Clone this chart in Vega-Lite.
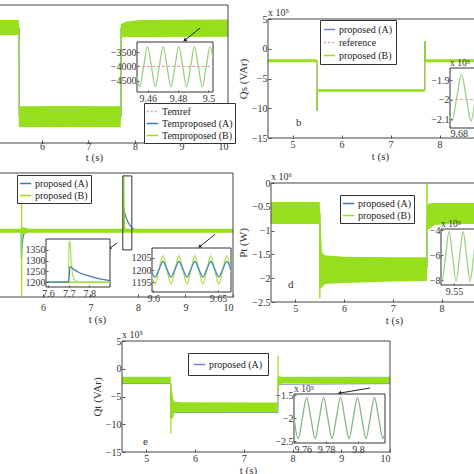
{
"$schema": "https://vega.github.io/schema/vega-lite/v6.json",
"width": 474, "height": 474,
"autosize": {"type": "none"},
"padding": 0,
"background": "white",
"config": {
 "view": {"stroke": null},
 "font": "Liberation Serif",
 "axis": {"labelFont": "Liberation Serif", "labelFontSize": 10, "labelColor": "#333", "titleFont": "Liberation Serif", "titleFontSize": 11, "titleFontWeight": "normal", "titleColor": "#333", "domain": false, "grid": false, "tickSize": -3, "tickColor": "#555", "labelPadding": 4, "titlePadding": 1},
 "legend": {"strokeColor": "#333", "fillColor": "white", "padding": 2, "rowPadding": 0, "labelFont": "Liberation Serif", "labelFontSize": 10, "labelColor": "#222", "symbolType": "stroke", "symbolSize": 130, "symbolStrokeWidth": 1.5, "labelOffset": 3, "cornerRadius": 0}
},
"resolve": {"scale": {"x": "independent", "y": "independent", "color": "independent", "strokeDash": "independent"}, "axis": {"x": "independent", "y": "independent"}, "legend": {"color": "independent", "strokeDash": "independent"}},
"datasets": {
 "aLines": [
  {"t":5.1,"v":-4000,"s":"Temref"},{"t":5.51,"v":-4000,"s":"Temref"},{"t":5.5101,"v":-9950,"s":"Temref"},{"t":7.7,"v":-9950,"s":"Temref"},{"t":7.7001,"v":-4000,"s":"Temref"},{"t":10,"v":-4000,"s":"Temref"},
  {"t":5.1,"v":-4000,"s":"Temproposed (A)"},{"t":5.51,"v":-4000,"s":"Temproposed (A)"},{"t":5.515,"v":-9950,"s":"Temproposed (A)"},{"t":7.7,"v":-9950,"s":"Temproposed (A)"},{"t":7.705,"v":-4000,"s":"Temproposed (A)"},{"t":10,"v":-4000,"s":"Temproposed (A)"},
  {"t":5.1,"v":-4000,"s":"Temproposed (B)"},{"t":5.51,"v":-4000,"s":"Temproposed (B)"},{"t":5.515,"v":-9950,"s":"Temproposed (B)"},{"t":7.7,"v":-9950,"s":"Temproposed (B)"},{"t":7.705,"v":-4000,"s":"Temproposed (B)"},{"t":10,"v":-4000,"s":"Temproposed (B)"}
 ],
 "aBand": [
  {"t":5.1,"lo":-4500,"hi":-3500},{"t":5.5,"lo":-4500,"hi":-3500},{"t":5.505,"lo":-10650,"hi":-3500},{"t":5.51,"lo":-10650,"hi":-9250},{"t":6.5,"lo":-10640,"hi":-9240},{"t":7.69,"lo":-10650,"hi":-9250},{"t":7.695,"lo":-10650,"hi":-3760},{"t":7.705,"lo":-4650,"hi":-3760},{"t":7.8,"lo":-4640,"hi":-3620},{"t":8.1,"lo":-4630,"hi":-3500},{"t":10,"lo":-4620,"hi":-3470}
 ],
 "aFrame": [{"x1":4.5,"x2":10,"y1":-11700,"y2":-2500}],
 "aArrow": [{"t":9.401,"v":-4033,"t2":9.079,"v2":-4833}],
 "aIBox": [{"x1":9.453,"x2":9.503,"y1":-4880,"y2":-3155}],
 "aIRef": [{"x1":9.453,"x2":9.503,"v":-4000}],
 "aISine": [
  {"t":9.453,"v":-4342},{"t":9.45475,"v":-4697},{"t":9.45733,"v":-4007},{"t":9.4599,"v":-3317},{"t":9.46248,"v":-4007},{"t":9.46505,"v":-4697},{"t":9.46763,"v":-4007},{"t":9.4702,"v":-3317},{"t":9.47278,"v":-4007},{"t":9.47535,"v":-4697},{"t":9.47793,"v":-4007},{"t":9.4805,"v":-3317},{"t":9.48308,"v":-4007},{"t":9.48565,"v":-4697},{"t":9.48823,"v":-4007},{"t":9.4908,"v":-3317},{"t":9.49338,"v":-4007},{"t":9.49595,"v":-4697},{"t":9.49853,"v":-4007},{"t":9.5011,"v":-3317},{"t":9.503,"v":-3726}
 ],
 "bLines": [
  {"t":4.5,"v":-2,"s":"proposed (A)"},{"t":5.5,"v":-2,"s":"proposed (A)"},{"t":5.502,"v":-10.4,"s":"proposed (A)"},{"t":5.506,"v":-7,"s":"proposed (A)"},{"t":7.7,"v":-7,"s":"proposed (A)"},{"t":7.702,"v":1.3,"s":"proposed (A)"},{"t":7.706,"v":-2,"s":"proposed (A)"},{"t":10,"v":-2,"s":"proposed (A)"},
  {"t":4.5,"v":-2,"s":"reference"},{"t":5.5,"v":-2,"s":"reference"},{"t":5.5001,"v":-7,"s":"reference"},{"t":7.7,"v":-7,"s":"reference"},{"t":7.7001,"v":-2,"s":"reference"},{"t":10,"v":-2,"s":"reference"},
  {"t":4.5,"v":-2,"s":"proposed (B)"},{"t":5.5,"v":-2,"s":"proposed (B)"},{"t":5.502,"v":-10.4,"s":"proposed (B)"},{"t":5.506,"v":-7,"s":"proposed (B)"},{"t":7.7,"v":-7,"s":"proposed (B)"},{"t":7.702,"v":1.3,"s":"proposed (B)"},{"t":7.706,"v":-2,"s":"proposed (B)"},{"t":10,"v":-2,"s":"proposed (B)"}
 ],
 "bBand": [
  {"t":4.5,"lo":-2.25,"hi":-1.75},{"t":5.5,"lo":-2.25,"hi":-1.75},{"t":5.5001,"lo":-7.22,"hi":-6.8},{"t":7.7,"lo":-7.22,"hi":-6.8},{"t":7.7001,"lo":-2.25,"hi":-1.75},{"t":10,"lo":-2.25,"hi":-1.75}
 ],
 "bFrame": [{"x1":4.5,"x2":10,"y1":-15,"y2":5}],
 "bText": [{"t":5.07,"v":-12.4,"txt":"b"}],
 "bExp": [{"t":4.5,"v":5,"txt":"x 10⁵"}],
 "bIBox": [{"x1":9.68,"x2":9.71,"y1":-2.146,"y2":-1.838}],
 "bIRef": [{"x1":9.68,"x2":9.71,"v":-2}],
 "bIExp": [{"t":9.68,"v":-1.838,"txt":"x 10⁵"}],
 "bISine": [
  {"t":9.68,"v":-2.085},{"t":9.6808,"v":-2.11},{"t":9.6827,"v":-1.99},{"t":9.6846,"v":-1.87},{"t":9.6865,"v":-1.99},{"t":9.6884,"v":-2.11},{"t":9.6903,"v":-1.99},{"t":9.6922,"v":-1.87},{"t":9.6941,"v":-1.99},{"t":9.696,"v":-2.11},{"t":9.6979,"v":-1.99},{"t":9.6998,"v":-1.87},{"t":9.7017,"v":-1.99},{"t":9.7036,"v":-2.11},{"t":9.7055,"v":-1.99},{"t":9.7074,"v":-1.87},{"t":9.7093,"v":-1.99},{"t":9.71,"v":-2.03}
 ],
 "cLines": [
  {"t":5.095,"v":1200,"s":"proposed (A)"},{"t":5.54,"v":1200,"s":"proposed (A)"},{"t":5.545,"v":1110,"s":"proposed (A)"},{"t":5.56,"v":1150,"s":"proposed (A)"},{"t":5.58,"v":1178,"s":"proposed (A)"},{"t":5.6,"v":1190,"s":"proposed (A)"},{"t":5.63,"v":1198,"s":"proposed (A)"},{"t":5.66,"v":1200,"s":"proposed (A)"},{"t":7.7,"v":1200,"s":"proposed (A)"},{"t":7.705,"v":1270,"s":"proposed (A)"},{"t":7.72,"v":1258,"s":"proposed (A)"},{"t":7.75,"v":1242,"s":"proposed (A)"},{"t":7.8,"v":1225,"s":"proposed (A)"},{"t":7.85,"v":1213,"s":"proposed (A)"},{"t":7.9,"v":1206,"s":"proposed (A)"},{"t":7.95,"v":1202,"s":"proposed (A)"},{"t":8.0,"v":1200,"s":"proposed (A)"},{"t":10,"v":1200,"s":"proposed (A)"},
  {"t":5.095,"v":1200,"s":"proposed (B)"},{"t":5.548,"v":1200,"s":"proposed (B)"},{"t":5.55,"v":1290,"s":"proposed (B)"},{"t":5.552,"v":990,"s":"proposed (B)"},{"t":5.555,"v":1200,"s":"proposed (B)"},{"t":7.699,"v":1200,"s":"proposed (B)"},{"t":7.703,"v":1380,"s":"proposed (B)"},{"t":7.707,"v":1300,"s":"proposed (B)"},{"t":7.715,"v":1220,"s":"proposed (B)"},{"t":7.73,"v":1205,"s":"proposed (B)"},{"t":7.75,"v":1200,"s":"proposed (B)"},{"t":10,"v":1200,"s":"proposed (B)"}
 ],
 "cBand": [
  {"t":5.095,"lo":1193.5,"hi":1206.5},{"t":5.54,"lo":1193.5,"hi":1206.5},{"t":5.56,"lo":1188,"hi":1212},{"t":5.62,"lo":1190,"hi":1210},{"t":5.7,"lo":1193.5,"hi":1206.5},{"t":10,"lo":1193.5,"hi":1206.5}
 ],
 "cFrame": [{"x1":4.5,"x2":10,"y1":985.8,"y2":1386.4}],
 "cBox": [{"x1":7.68,"x2":7.87,"y1":1138,"y2":1377}],
 "cArrow1": [{"t":7.558,"v":1160,"t2":7.411,"v2":1144}],
 "cArrow2": [{"t":9.621,"v":1188,"t2":9.305,"v2":1149}],
 "c1Box": [{"x1":7.59,"x2":7.9,"y1":1177,"y2":1401}],
 "c1Band": [{"t":7.59,"lo":1196,"hi":1204},{"t":7.9,"lo":1196,"hi":1204}],
 "c1G": [
  {"t":7.59,"v":1200},{"t":7.699,"v":1200},{"t":7.702,"v":1380},{"t":7.705,"v":1392},{"t":7.708,"v":1370},{"t":7.712,"v":1300},{"t":7.718,"v":1240},{"t":7.725,"v":1215},{"t":7.735,"v":1205},{"t":7.75,"v":1200},{"t":7.9,"v":1200}
 ],
 "c1B": [
  {"t":7.59,"v":1200},{"t":7.7,"v":1200},{"t":7.706,"v":1272},{"t":7.72,"v":1262},{"t":7.75,"v":1245},{"t":7.8,"v":1228},{"t":7.85,"v":1215},{"t":7.9,"v":1207}
 ],
 "c2Box": [{"x1":9.599,"x2":9.66,"y1":1191,"y2":1209}],
 "c2Sine": [
  {"t":9.599,"g":1197.9,"b":1198.8},{"t":9.60135,"g":1194.2,"b":1197.1},{"t":9.60443,"g":1200,"b":1200.3},{"t":9.6075,"g":1205.8,"b":1203.5},{"t":9.61058,"g":1200,"b":1200.3},{"t":9.61365,"g":1194.2,"b":1197.1},{"t":9.61673,"g":1200,"b":1200.3},{"t":9.6198,"g":1205.8,"b":1203.5},{"t":9.62288,"g":1200,"b":1200.3},{"t":9.62595,"g":1194.2,"b":1197.1},{"t":9.62903,"g":1200,"b":1200.3},{"t":9.6321,"g":1205.8,"b":1203.5},{"t":9.63518,"g":1200,"b":1200.3},{"t":9.63825,"g":1194.2,"b":1197.1},{"t":9.64133,"g":1200,"b":1200.3},{"t":9.6444,"g":1205.8,"b":1203.5},{"t":9.64748,"g":1200,"b":1200.3},{"t":9.65055,"g":1194.2,"b":1197.1},{"t":9.65363,"g":1200,"b":1200.3},{"t":9.6567,"g":1205.8,"b":1203.5},{"t":9.65978,"g":1200,"b":1200.3},{"t":9.66,"g":1199.3,"b":1199.9}
 ],
 "dLines": [
  {"t":4.5,"v":-0.62,"s":"proposed (A)"},{"t":5.5,"v":-0.62,"s":"proposed (A)"},{"t":5.515,"v":-1.5,"s":"proposed (A)"},{"t":5.52,"v":-2.15,"s":"proposed (A)"},{"t":5.525,"v":-1.6,"s":"proposed (A)"},{"t":5.55,"v":-1.8,"s":"proposed (A)"},{"t":7.7,"v":-1.8,"s":"proposed (A)"},{"t":7.705,"v":-0.65,"s":"proposed (A)"},{"t":10,"v":-0.65,"s":"proposed (A)"},
  {"t":4.5,"v":-0.62,"s":"proposed (B)"},{"t":5.5,"v":-0.62,"s":"proposed (B)"},{"t":5.502,"v":-2.42,"s":"proposed (B)"},{"t":5.506,"v":-1.0,"s":"proposed (B)"},{"t":5.51,"v":-2.2,"s":"proposed (B)"},{"t":5.53,"v":-1.8,"s":"proposed (B)"},{"t":7.698,"v":-1.8,"s":"proposed (B)"},{"t":7.702,"v":-0.02,"s":"proposed (B)"},{"t":7.706,"v":-1.05,"s":"proposed (B)"},{"t":7.72,"v":-0.7,"s":"proposed (B)"},{"t":10,"v":-0.65,"s":"proposed (B)"}
 ],
 "dBand": [
  {"t":4.5,"lo":-0.86,"hi":-0.4},{"t":5.495,"lo":-0.86,"hi":-0.4},{"t":5.5,"lo":-2.2,"hi":-0.4},{"t":5.52,"lo":-2.2,"hi":-0.9},{"t":5.545,"lo":-2.2,"hi":-1.45},{"t":5.6,"lo":-2.12,"hi":-1.52},{"t":6.0,"lo":-2.1,"hi":-1.55},{"t":7.0,"lo":-2.07,"hi":-1.56},{"t":7.695,"lo":-2.06,"hi":-1.56},{"t":7.7,"lo":-2.06,"hi":-0.45},{"t":7.705,"lo":-1.0,"hi":-0.45},{"t":7.75,"lo":-0.96,"hi":-0.43},{"t":7.85,"lo":-0.88,"hi":-0.42},{"t":8.2,"lo":-0.86,"hi":-0.42},{"t":10,"lo":-0.86,"hi":-0.42}
 ],
 "dFrame": [{"x1":4.5,"x2":10,"y1":-2.5,"y2":0}],
 "dText": [{"t":4.85,"v":-2.14,"txt":"d"}],
 "dExp": [{"t":4.5,"v":0,"txt":"x 10⁶"}],
 "dIBox": [{"x1":9.54,"x2":9.6015,"y1":-8.4,"y2":-3.9}],
 "dIExp": [{"t":9.54,"v":-3.9,"txt":"x 10⁵"}],
 "dISine": [
  {"t":9.54,"v":-7.9},{"t":9.5408,"v":-8.1},{"t":9.5435,"v":-6.1},{"t":9.5462,"v":-4.1},{"t":9.5489,"v":-6.1},{"t":9.5516,"v":-8.1},{"t":9.5543,"v":-6.1},{"t":9.557,"v":-4.1},{"t":9.5597,"v":-6.1},{"t":9.5624,"v":-8.1},{"t":9.5651,"v":-6.1},{"t":9.5678,"v":-4.1},{"t":9.5705,"v":-6.1},{"t":9.5732,"v":-8.1},{"t":9.5759,"v":-6.1},{"t":9.5786,"v":-4.1},{"t":9.5813,"v":-6.1},{"t":9.584,"v":-8.1},{"t":9.5867,"v":-6.1},{"t":9.5894,"v":-4.1},{"t":9.5921,"v":-6.1},{"t":9.5948,"v":-8.1},{"t":9.5975,"v":-6.1},{"t":9.6002,"v":-4.1},{"t":9.6015,"v":-4.6}
 ],
 "eLines": [
  {"t":4.5,"v":-2.68,"s":"proposed (A)"},{"t":5.5,"v":-2.68,"s":"proposed (A)"},{"t":5.505,"v":-9,"s":"proposed (A)"},{"t":5.515,"v":-7.2,"s":"proposed (A)"},{"t":5.56,"v":-7.9,"s":"proposed (A)"},{"t":7.7,"v":-7.9,"s":"proposed (A)"},{"t":7.705,"v":-2.8,"s":"proposed (A)"},{"t":10,"v":-2.68,"s":"proposed (A)"}
 ],
 "eBand": [
  {"t":4.5,"lo":-2.6,"hi":-1.45},{"t":5.495,"lo":-2.6,"hi":-1.45},{"t":5.5,"lo":-9,"hi":-1.45},{"t":5.505,"lo":-9,"hi":-3},{"t":5.555,"lo":-8.8,"hi":-5.5},{"t":5.57,"lo":-7.9,"hi":-5.9},{"t":5.7,"lo":-7.9,"hi":-6.05},{"t":7.69,"lo":-7.85,"hi":-6.1},{"t":7.695,"lo":-7.85,"hi":-1.3},{"t":7.705,"lo":-4,"hi":-1.3},{"t":7.73,"lo":-2.9,"hi":-1.4},{"t":7.8,"lo":-2.62,"hi":-1.45},{"t":10,"lo":-2.62,"hi":-1.45}
 ],
 "eSpikes": [{"t":5.503,"lo":-11.7,"hi":-2.6},{"t":7.703,"lo":-4,"hi":2.3}],
 "eFrame": [{"x1":4.5,"x2":10,"y1":-15,"y2":5}],
 "eText": [{"t":4.93,"v":-13.2,"txt":"e"}],
 "eExp": [{"t":4.5,"v":5,"txt":"x 10⁵"}],
 "eArrow": [{"t":9.592,"v":-3.47,"t2":8.976,"v2":-4.37}],
 "eIBox": [{"x1":9.76,"x2":9.8169,"y1":-2.543,"y2":-1.478}],
 "eIExp": [{"t":9.76,"v":-1.478,"txt":"x 10⁵"}],
 "eISine": [
  {"t":9.76,"v":-1.99},{"t":9.7626,"v":-2.45},{"t":9.76525,"v":-2.0},{"t":9.7679,"v":-1.55},{"t":9.77055,"v":-2.0},{"t":9.7732,"v":-2.45},{"t":9.77585,"v":-2.0},{"t":9.7785,"v":-1.55},{"t":9.78115,"v":-2.0},{"t":9.7838,"v":-2.45},{"t":9.78645,"v":-2.0},{"t":9.7891,"v":-1.55},{"t":9.79175,"v":-2.0},{"t":9.7944,"v":-2.45},{"t":9.79705,"v":-2.0},{"t":9.7997,"v":-1.55},{"t":9.80235,"v":-2.0},{"t":9.805,"v":-2.45},{"t":9.80765,"v":-2.0},{"t":9.8103,"v":-1.55},{"t":9.81295,"v":-2.0},{"t":9.8156,"v":-2.45},{"t":9.8169,"v":-2.32}
 ]
},
"layer": [
 {"layer": [
  {"data": {"name": "aLines"}, "mark": {"type": "line", "strokeWidth": 1},
   "encoding": {
    "x": {"field": "t", "type": "quantitative", "scale": {"domain": [5.1, 10], "range": [0, 228], "nice": false, "zero": false}, "axis": {"orient": "bottom", "offset": -331, "values": [6,7,8,9,10], "format": "d", "title": "t (s)", "titleX": 94, "labelPadding": 1, "titlePadding": 0}},
    "y": {"field": "v", "type": "quantitative", "scale": {"domain": [-11700, -2500], "range": [143, 5], "nice": false, "zero": false}, "axis": null},
    "color": {"field": "s", "type": "nominal", "scale": {"domain": ["Temref","Temproposed (A)","Temproposed (B)"], "range": ["#e8949c","#3d7ab8","#97df1c"]}, "legend": {"orient": "none", "legendX": 144, "legendY": 103, "title": null}},
    "strokeDash": {"field": "s", "type": "nominal", "scale": {"domain": ["Temref","Temproposed (A)","Temproposed (B)"], "range": [[2,2],[1,0],[1,0]]}, "legend": {"orient": "none", "legendX": 144, "legendY": 103, "title": null}}
   }},
  {"data": {"name": "aBand"}, "mark": {"type": "area", "color": "#97df1c"},
   "encoding": {
    "x": {"field": "t", "type": "quantitative", "scale": {"domain": [5.1, 10], "range": [0, 228], "nice": false, "zero": false}},
    "y": {"field": "lo", "type": "quantitative", "scale": {"domain": [-11700, -2500], "range": [143, 5], "nice": false, "zero": false}, "axis": null},
    "y2": {"field": "hi"}
   }},
  {"data": {"name": "aArrow"}, "mark": {"type": "rule", "color": "#222", "strokeWidth": 1},
   "encoding": {
    "x": {"field": "t", "type": "quantitative", "scale": {"domain": [5.1, 10], "range": [0, 228], "nice": false, "zero": false}},
    "y": {"field": "v", "type": "quantitative", "scale": {"domain": [-11700, -2500], "range": [143, 5], "nice": false, "zero": false}, "axis": null},
    "x2": {"field": "t2"}, "y2": {"field": "v2"}
   }},
  {"data": {"name": "aArrow"}, "mark": {"type": "point", "shape": "triangle", "filled": true, "size": 18, "angle": 231, "color": "#222", "opacity": 1},
   "encoding": {
    "x": {"field": "t2", "type": "quantitative", "scale": {"domain": [5.1, 10], "range": [0, 228], "nice": false, "zero": false}},
    "y": {"field": "v2", "type": "quantitative", "scale": {"domain": [-11700, -2500], "range": [143, 5], "nice": false, "zero": false}, "axis": null}
   }},
  {"data": {"name": "aFrame"}, "mark": {"type": "rect", "fillOpacity": 0, "stroke": "#444", "strokeWidth": 1},
   "encoding": {
    "x": {"field": "x1", "type": "quantitative", "scale": {"domain": [5.1, 10], "range": [0, 228], "nice": false, "zero": false}},
    "x2": {"field": "x2"},
    "y": {"field": "y1", "type": "quantitative", "scale": {"domain": [-11700, -2500], "range": [143, 5], "nice": false, "zero": false}, "axis": null},
    "y2": {"field": "y2"}
   }}
 ]},
 {"layer": [
  {"data": {"name": "aIBox"}, "mark": {"type": "rect", "fill": "white", "stroke": "#333", "strokeWidth": 1},
   "encoding": {
    "x": {"field": "x1", "type": "quantitative", "scale": {"domain": [9.453, 9.503], "range": [137, 213], "nice": false, "zero": false}, "axis": {"orient": "bottom", "offset": -382, "values": [9.46, 9.48, 9.5], "format": ".2~f", "title": null, "zindex": 2, "tickSize": -2, "labelPadding": 3}},
    "x2": {"field": "x2"},
    "y": {"field": "y1", "type": "quantitative", "scale": {"domain": [-4880, -3155], "range": [92, 42], "nice": false, "zero": false}, "axis": {"orient": "left", "offset": -137, "values": [-4500, -4000, -3500], "format": "d", "title": null, "zindex": 2, "tickSize": -2, "labelPadding": 3}},
    "y2": {"field": "y2"}
   }},
  {"data": {"name": "aIRef"}, "mark": {"type": "rule", "color": "#e8949c", "strokeDash": [3,2], "strokeWidth": 1},
   "encoding": {
    "x": {"field": "x1", "type": "quantitative", "scale": {"domain": [9.453, 9.503], "range": [137, 213], "nice": false, "zero": false}},
    "x2": {"field": "x2"},
    "y": {"field": "v", "type": "quantitative", "scale": {"domain": [-4880, -3155], "range": [92, 42], "nice": false, "zero": false}}
   }},
  {"data": {"name": "aISine"}, "mark": {"type": "line", "color": "#9dcf85", "strokeWidth": 1.3, "interpolate": "monotone"},
   "encoding": {
    "x": {"field": "t", "type": "quantitative", "scale": {"domain": [9.453, 9.503], "range": [137, 213], "nice": false, "zero": false}},
    "y": {"field": "v", "type": "quantitative", "scale": {"domain": [-4880, -3155], "range": [92, 42], "nice": false, "zero": false}}
   }}
 ]},
 {"layer": [
  {"data": {"name": "bLines"}, "mark": {"type": "line", "strokeWidth": 1},
   "encoding": {
    "x": {"field": "t", "type": "quantitative", "scale": {"domain": [4.5, 10], "range": [268, 537.5], "nice": false, "zero": false}, "axis": {"orient": "bottom", "offset": -336, "values": [5,6,7,8,9,10], "format": "d", "title": "t (s)", "titleX": 380}},
    "y": {"field": "v", "type": "quantitative", "scale": {"domain": [-15, 5], "range": [138, 19], "nice": false, "zero": false}, "axis": {"orient": "left", "offset": -268, "values": [-15,-10,-5,0,5], "format": "d", "title": "Qs (VAr)", "titlePadding": 3}},
    "color": {"field": "s", "type": "nominal", "scale": {"domain": ["proposed (A)","reference","proposed (B)"], "range": ["#6f86c6","#e8949c","#97df1c"]}, "legend": {"orient": "none", "legendX": 320, "legendY": 20, "title": null, "padding": 3, "rowPadding": 1}},
    "strokeDash": {"field": "s", "type": "nominal", "scale": {"domain": ["proposed (A)","reference","proposed (B)"], "range": [[1,0],[2,2],[1,0]]}, "legend": {"orient": "none", "legendX": 320, "legendY": 20, "title": null, "padding": 3, "rowPadding": 1}}
   }},
  {"data": {"name": "bBand"}, "mark": {"type": "area", "color": "#97df1c"},
   "encoding": {
    "x": {"field": "t", "type": "quantitative", "scale": {"domain": [4.5, 10], "range": [268, 537.5], "nice": false, "zero": false}},
    "y": {"field": "lo", "type": "quantitative", "scale": {"domain": [-15, 5], "range": [138, 19], "nice": false, "zero": false}},
    "y2": {"field": "hi"}
   }},
  {"data": {"name": "bText"}, "mark": {"type": "text", "fontSize": 11, "font": "Liberation Serif", "align": "left", "baseline": "middle", "color": "#333"},
   "encoding": {
    "x": {"field": "t", "type": "quantitative", "scale": {"domain": [4.5, 10], "range": [268, 537.5], "nice": false, "zero": false}},
    "y": {"field": "v", "type": "quantitative", "scale": {"domain": [-15, 5], "range": [138, 19], "nice": false, "zero": false}},
    "text": {"field": "txt"}
   }},
  {"data": {"name": "bExp"}, "mark": {"type": "text", "fontSize": 10, "font": "Liberation Serif", "align": "left", "baseline": "bottom", "dy": -1, "color": "#333"},
   "encoding": {
    "x": {"field": "t", "type": "quantitative", "scale": {"domain": [4.5, 10], "range": [268, 537.5], "nice": false, "zero": false}},
    "y": {"field": "v", "type": "quantitative", "scale": {"domain": [-15, 5], "range": [138, 19], "nice": false, "zero": false}},
    "text": {"field": "txt"}
   }},
  {"data": {"name": "bFrame"}, "mark": {"type": "rect", "fillOpacity": 0, "stroke": "#444", "strokeWidth": 1},
   "encoding": {
    "x": {"field": "x1", "type": "quantitative", "scale": {"domain": [4.5, 10], "range": [268, 537.5], "nice": false, "zero": false}},
    "x2": {"field": "x2"},
    "y": {"field": "y1", "type": "quantitative", "scale": {"domain": [-15, 5], "range": [138, 19], "nice": false, "zero": false}},
    "y2": {"field": "y2"}
   }}
 ]},
 {"layer": [
  {"data": {"name": "bIBox"}, "mark": {"type": "rect", "fill": "white", "stroke": "#333", "strokeWidth": 1},
   "encoding": {
    "x": {"field": "x1", "type": "quantitative", "scale": {"domain": [9.68, 9.71], "range": [450, 525], "nice": false, "zero": false}, "axis": {"orient": "bottom", "offset": -346, "values": [9.68], "format": ".2f", "title": null, "zindex": 2, "tickSize": -2, "labelPadding": 2}},
    "x2": {"field": "x2"},
    "y": {"field": "y1", "type": "quantitative", "scale": {"domain": [-2.146, -1.838], "range": [128, 68], "nice": false, "zero": false}, "axis": {"orient": "left", "offset": -450, "values": [-2.1, -2, -1.9], "format": "~g", "title": null, "zindex": 2, "tickSize": -2, "labelPadding": 3}},
    "y2": {"field": "y2"}
   }},
  {"data": {"name": "bIRef"}, "mark": {"type": "rule", "color": "#e8949c", "strokeDash": [3,2], "strokeWidth": 1},
   "encoding": {
    "x": {"field": "x1", "type": "quantitative", "scale": {"domain": [9.68, 9.71], "range": [450, 525], "nice": false, "zero": false}},
    "x2": {"field": "x2"},
    "y": {"field": "v", "type": "quantitative", "scale": {"domain": [-2.146, -1.838], "range": [128, 68], "nice": false, "zero": false}}
   }},
  {"data": {"name": "bISine"}, "mark": {"type": "line", "color": "#9dcf85", "strokeWidth": 1.3, "interpolate": "monotone"},
   "encoding": {
    "x": {"field": "t", "type": "quantitative", "scale": {"domain": [9.68, 9.71], "range": [450, 525], "nice": false, "zero": false}},
    "y": {"field": "v", "type": "quantitative", "scale": {"domain": [-2.146, -1.838], "range": [128, 68], "nice": false, "zero": false}}
   }},
  {"data": {"name": "bIExp"}, "mark": {"type": "text", "fontSize": 9.5, "font": "Liberation Serif", "align": "left", "baseline": "bottom", "color": "#333"},
   "encoding": {
    "x": {"field": "t", "type": "quantitative", "scale": {"domain": [9.68, 9.71], "range": [450, 525], "nice": false, "zero": false}},
    "y": {"field": "v", "type": "quantitative", "scale": {"domain": [-2.146, -1.838], "range": [128, 68], "nice": false, "zero": false}},
    "text": {"field": "txt"}
   }}
 ]},
 {"layer": [
  {"data": {"name": "cLines"}, "mark": {"type": "line", "strokeWidth": 1.2},
   "encoding": {
    "x": {"field": "t", "type": "quantitative", "scale": {"domain": [5.095, 10], "range": [0, 233], "nice": false, "zero": false}, "axis": {"orient": "bottom", "offset": -177, "values": [6,7,8,9,10], "format": "d", "title": "t (s)", "titleX": 97, "labelPadding": 8}},
    "y": {"field": "v", "type": "quantitative", "scale": {"domain": [985.8, 1386.4], "range": [297, 173], "nice": false, "zero": false}, "axis": null},
    "color": {"field": "s", "type": "nominal", "scale": {"domain": ["proposed (A)","proposed (B)"], "range": ["#3d7ab8","#97df1c"]}, "legend": {"orient": "none", "legendX": 17, "legendY": 175, "title": null}}
   }},
  {"data": {"name": "cBand"}, "mark": {"type": "area", "color": "#97df1c"},
   "encoding": {
    "x": {"field": "t", "type": "quantitative", "scale": {"domain": [5.095, 10], "range": [0, 233], "nice": false, "zero": false}},
    "y": {"field": "lo", "type": "quantitative", "scale": {"domain": [985.8, 1386.4], "range": [297, 173], "nice": false, "zero": false}, "axis": null},
    "y2": {"field": "hi"}
   }},
  {"data": {"name": "cBox"}, "mark": {"type": "rect", "fillOpacity": 0, "stroke": "#333", "strokeWidth": 1},
   "encoding": {
    "x": {"field": "x1", "type": "quantitative", "scale": {"domain": [5.095, 10], "range": [0, 233], "nice": false, "zero": false}},
    "x2": {"field": "x2"},
    "y": {"field": "y1", "type": "quantitative", "scale": {"domain": [985.8, 1386.4], "range": [297, 173], "nice": false, "zero": false}, "axis": null},
    "y2": {"field": "y2"}
   }},
  {"data": {"name": "cArrow1"}, "mark": {"type": "rule", "color": "#222", "strokeWidth": 1},
   "encoding": {
    "x": {"field": "t", "type": "quantitative", "scale": {"domain": [5.095, 10], "range": [0, 233], "nice": false, "zero": false}},
    "y": {"field": "v", "type": "quantitative", "scale": {"domain": [985.8, 1386.4], "range": [297, 173], "nice": false, "zero": false}, "axis": null},
    "x2": {"field": "t2"}, "y2": {"field": "v2"}
   }},
  {"data": {"name": "cArrow1"}, "mark": {"type": "point", "shape": "triangle", "filled": true, "size": 14, "angle": 234, "color": "#222", "opacity": 1},
   "encoding": {
    "x": {"field": "t2", "type": "quantitative", "scale": {"domain": [5.095, 10], "range": [0, 233], "nice": false, "zero": false}},
    "y": {"field": "v2", "type": "quantitative", "scale": {"domain": [985.8, 1386.4], "range": [297, 173], "nice": false, "zero": false}, "axis": null}
   }},
  {"data": {"name": "cArrow2"}, "mark": {"type": "rule", "color": "#222", "strokeWidth": 1},
   "encoding": {
    "x": {"field": "t", "type": "quantitative", "scale": {"domain": [5.095, 10], "range": [0, 233], "nice": false, "zero": false}},
    "y": {"field": "v", "type": "quantitative", "scale": {"domain": [985.8, 1386.4], "range": [297, 173], "nice": false, "zero": false}, "axis": null},
    "x2": {"field": "t2"}, "y2": {"field": "v2"}
   }},
  {"data": {"name": "cArrow2"}, "mark": {"type": "point", "shape": "triangle", "filled": true, "size": 14, "angle": 231, "color": "#222", "opacity": 1},
   "encoding": {
    "x": {"field": "t2", "type": "quantitative", "scale": {"domain": [5.095, 10], "range": [0, 233], "nice": false, "zero": false}},
    "y": {"field": "v2", "type": "quantitative", "scale": {"domain": [985.8, 1386.4], "range": [297, 173], "nice": false, "zero": false}, "axis": null}
   }},
  {"data": {"name": "cFrame"}, "mark": {"type": "rect", "fillOpacity": 0, "stroke": "#444", "strokeWidth": 1},
   "encoding": {
    "x": {"field": "x1", "type": "quantitative", "scale": {"domain": [5.095, 10], "range": [0, 233], "nice": false, "zero": false}},
    "x2": {"field": "x2"},
    "y": {"field": "y1", "type": "quantitative", "scale": {"domain": [985.8, 1386.4], "range": [297, 173], "nice": false, "zero": false}, "axis": null},
    "y2": {"field": "y2"}
   }}
 ]},
 {"layer": [
  {"data": {"name": "c1Box"}, "mark": {"type": "rect", "fill": "white", "stroke": "#333", "strokeWidth": 1},
   "encoding": {
    "x": {"field": "x1", "type": "quantitative", "scale": {"domain": [7.59, 7.9], "range": [46, 110], "nice": false, "zero": false}, "axis": {"orient": "bottom", "offset": -187, "values": [7.6, 7.7, 7.8], "format": ".1f", "title": null, "zindex": 2, "tickSize": -2, "labelPadding": 3}},
    "x2": {"field": "x2"},
    "y": {"field": "y1", "type": "quantitative", "scale": {"domain": [1177, 1401], "range": [287, 239], "nice": false, "zero": false}, "axis": {"orient": "left", "offset": -46, "values": [1200, 1250, 1300, 1350], "format": "d", "title": null, "zindex": 2, "tickSize": -2, "labelPadding": 3}},
    "y2": {"field": "y2"}
   }},
  {"data": {"name": "c1Band"}, "mark": {"type": "area", "color": "#a9e05a"},
   "encoding": {
    "x": {"field": "t", "type": "quantitative", "scale": {"domain": [7.59, 7.9], "range": [46, 110], "nice": false, "zero": false}},
    "y": {"field": "lo", "type": "quantitative", "scale": {"domain": [1177, 1401], "range": [287, 239], "nice": false, "zero": false}},
    "y2": {"field": "hi"}
   }},
  {"data": {"name": "c1G"}, "mark": {"type": "line", "color": "#a9e05a", "strokeWidth": 1.2},
   "encoding": {
    "x": {"field": "t", "type": "quantitative", "scale": {"domain": [7.59, 7.9], "range": [46, 110], "nice": false, "zero": false}},
    "y": {"field": "v", "type": "quantitative", "scale": {"domain": [1177, 1401], "range": [287, 239], "nice": false, "zero": false}}
   }},
  {"data": {"name": "c1B"}, "mark": {"type": "line", "color": "#3d7ab8", "strokeWidth": 1.2, "interpolate": "monotone"},
   "encoding": {
    "x": {"field": "t", "type": "quantitative", "scale": {"domain": [7.59, 7.9], "range": [46, 110], "nice": false, "zero": false}},
    "y": {"field": "v", "type": "quantitative", "scale": {"domain": [1177, 1401], "range": [287, 239], "nice": false, "zero": false}}
   }}
 ]},
 {"layer": [
  {"data": {"name": "c2Box"}, "mark": {"type": "rect", "fill": "white", "stroke": "#333", "strokeWidth": 1},
   "encoding": {
    "x": {"field": "x1", "type": "quantitative", "scale": {"domain": [9.599, 9.66], "range": [152, 231], "nice": false, "zero": false}, "axis": {"orient": "bottom", "offset": -182, "values": [9.6, 9.65], "format": "~g", "title": null, "zindex": 2, "tickSize": -2, "labelPadding": 3}},
    "x2": {"field": "x2"},
    "y": {"field": "y1", "type": "quantitative", "scale": {"domain": [1191, 1209], "range": [292, 248], "nice": false, "zero": false}, "axis": {"orient": "left", "offset": -152, "values": [1195, 1200, 1205], "format": "d", "title": null, "zindex": 2, "tickSize": -2, "labelPadding": 3}},
    "y2": {"field": "y2"}
   }},
  {"data": {"name": "c2Sine"}, "mark": {"type": "line", "color": "#b9e45e", "strokeWidth": 1.4, "interpolate": "monotone"},
   "encoding": {
    "x": {"field": "t", "type": "quantitative", "scale": {"domain": [9.599, 9.66], "range": [152, 231], "nice": false, "zero": false}},
    "y": {"field": "g", "type": "quantitative", "scale": {"domain": [1191, 1209], "range": [292, 248], "nice": false, "zero": false}}
   }},
  {"data": {"name": "c2Sine"}, "mark": {"type": "line", "color": "#4d8cc0", "strokeWidth": 1.4, "interpolate": "monotone"},
   "encoding": {
    "x": {"field": "t", "type": "quantitative", "scale": {"domain": [9.599, 9.66], "range": [152, 231], "nice": false, "zero": false}},
    "y": {"field": "b", "type": "quantitative", "scale": {"domain": [1191, 1209], "range": [292, 248], "nice": false, "zero": false}}
   }}
 ]},
 {"layer": [
  {"data": {"name": "dLines"}, "mark": {"type": "line", "strokeWidth": 1},
   "encoding": {
    "x": {"field": "t", "type": "quantitative", "scale": {"domain": [4.5, 10], "range": [271, 539], "nice": false, "zero": false}, "axis": {"orient": "bottom", "offset": -172, "values": [5,6,7,8,9,10], "format": "d", "title": "t (s)", "titleX": 394}},
    "y": {"field": "v", "type": "quantitative", "scale": {"domain": [-2.5, 0], "range": [302, 183], "nice": false, "zero": false}, "axis": {"orient": "left", "offset": -271, "values": [-2.5,-2,-1.5,-1,-0.5,0], "format": "~g", "title": "Pt (W)", "titlePadding": 3}},
    "color": {"field": "s", "type": "nominal", "scale": {"domain": ["proposed (A)","proposed (B)"], "range": ["#3d7ab8","#97df1c"]}, "legend": {"orient": "none", "legendX": 340, "legendY": 195, "title": null}}
   }},
  {"data": {"name": "dBand"}, "mark": {"type": "area", "color": "#97df1c"},
   "encoding": {
    "x": {"field": "t", "type": "quantitative", "scale": {"domain": [4.5, 10], "range": [271, 539], "nice": false, "zero": false}},
    "y": {"field": "lo", "type": "quantitative", "scale": {"domain": [-2.5, 0], "range": [302, 183], "nice": false, "zero": false}},
    "y2": {"field": "hi"}
   }},
  {"data": {"name": "dText"}, "mark": {"type": "text", "fontSize": 11, "font": "Liberation Serif", "align": "left", "baseline": "middle", "color": "#333"},
   "encoding": {
    "x": {"field": "t", "type": "quantitative", "scale": {"domain": [4.5, 10], "range": [271, 539], "nice": false, "zero": false}},
    "y": {"field": "v", "type": "quantitative", "scale": {"domain": [-2.5, 0], "range": [302, 183], "nice": false, "zero": false}},
    "text": {"field": "txt"}
   }},
  {"data": {"name": "dExp"}, "mark": {"type": "text", "fontSize": 10, "font": "Liberation Serif", "align": "left", "baseline": "bottom", "dy": -1, "color": "#333"},
   "encoding": {
    "x": {"field": "t", "type": "quantitative", "scale": {"domain": [4.5, 10], "range": [271, 539], "nice": false, "zero": false}},
    "y": {"field": "v", "type": "quantitative", "scale": {"domain": [-2.5, 0], "range": [302, 183], "nice": false, "zero": false}},
    "text": {"field": "txt"}
   }},
  {"data": {"name": "dFrame"}, "mark": {"type": "rect", "fillOpacity": 0, "stroke": "#444", "strokeWidth": 1},
   "encoding": {
    "x": {"field": "x1", "type": "quantitative", "scale": {"domain": [4.5, 10], "range": [271, 539], "nice": false, "zero": false}},
    "x2": {"field": "x2"},
    "y": {"field": "y1", "type": "quantitative", "scale": {"domain": [-2.5, 0], "range": [302, 183], "nice": false, "zero": false}},
    "y2": {"field": "y2"}
   }}
 ]},
 {"layer": [
  {"data": {"name": "dIBox"}, "mark": {"type": "rect", "fill": "white", "stroke": "#333", "strokeWidth": 1},
   "encoding": {
    "x": {"field": "x1", "type": "quantitative", "scale": {"domain": [9.54, 9.6015], "range": [441, 521], "nice": false, "zero": false}, "axis": {"orient": "bottom", "offset": -189, "values": [9.55], "format": ".2f", "title": null, "zindex": 2, "tickSize": -2, "labelPadding": 3}},
    "x2": {"field": "x2"},
    "y": {"field": "y1", "type": "quantitative", "scale": {"domain": [-8.4, -3.9], "range": [285, 229], "nice": false, "zero": false}, "axis": {"orient": "left", "offset": -441, "values": [-8, -6, -4], "format": "d", "title": null, "zindex": 2, "tickSize": -2, "labelPadding": 3}},
    "y2": {"field": "y2"}
   }},
  {"data": {"name": "dISine"}, "mark": {"type": "line", "color": "#9dcf85", "strokeWidth": 1.3, "interpolate": "monotone"},
   "encoding": {
    "x": {"field": "t", "type": "quantitative", "scale": {"domain": [9.54, 9.6015], "range": [441, 521], "nice": false, "zero": false}},
    "y": {"field": "v", "type": "quantitative", "scale": {"domain": [-8.4, -3.9], "range": [285, 229], "nice": false, "zero": false}}
   }},
  {"data": {"name": "dIExp"}, "mark": {"type": "text", "fontSize": 9.5, "font": "Liberation Serif", "align": "left", "baseline": "bottom", "color": "#333"},
   "encoding": {
    "x": {"field": "t", "type": "quantitative", "scale": {"domain": [9.54, 9.6015], "range": [441, 521], "nice": false, "zero": false}},
    "y": {"field": "v", "type": "quantitative", "scale": {"domain": [-8.4, -3.9], "range": [285, 229], "nice": false, "zero": false}},
    "text": {"field": "txt"}
   }}
 ]},
 {"layer": [
  {"data": {"name": "eLines"}, "mark": {"type": "line", "strokeWidth": 1},
   "encoding": {
    "x": {"field": "t", "type": "quantitative", "scale": {"domain": [4.5, 10], "range": [122, 390], "nice": false, "zero": false}, "axis": {"orient": "bottom", "offset": -22, "values": [5,6,7,8,9,10], "format": "d", "title": "t (s)", "titleX": 248}},
    "y": {"field": "v", "type": "quantitative", "scale": {"domain": [-15, 5], "range": [452, 341], "nice": false, "zero": false}, "axis": {"orient": "left", "offset": -122, "values": [-15,-10,-5,0,5], "format": "d", "title": "Qt (VAr)", "titlePadding": 3}},
    "color": {"field": "s", "type": "nominal", "scale": {"domain": ["proposed (A)"], "range": ["#6f86c6"]}, "legend": {"orient": "none", "legendX": 188, "legendY": 353, "title": null, "padding": 5}}
   }},
  {"data": {"name": "eBand"}, "mark": {"type": "area", "color": "#97df1c"},
   "encoding": {
    "x": {"field": "t", "type": "quantitative", "scale": {"domain": [4.5, 10], "range": [122, 390], "nice": false, "zero": false}},
    "y": {"field": "lo", "type": "quantitative", "scale": {"domain": [-15, 5], "range": [452, 341], "nice": false, "zero": false}},
    "y2": {"field": "hi"}
   }},
  {"data": {"name": "eSpikes"}, "mark": {"type": "rule", "color": "#97df1c", "strokeWidth": 1.2},
   "encoding": {
    "x": {"field": "t", "type": "quantitative", "scale": {"domain": [4.5, 10], "range": [122, 390], "nice": false, "zero": false}},
    "y": {"field": "lo", "type": "quantitative", "scale": {"domain": [-15, 5], "range": [452, 341], "nice": false, "zero": false}},
    "y2": {"field": "hi"}
   }},
  {"data": {"name": "eText"}, "mark": {"type": "text", "fontSize": 11, "font": "Liberation Serif", "align": "left", "baseline": "middle", "color": "#333"},
   "encoding": {
    "x": {"field": "t", "type": "quantitative", "scale": {"domain": [4.5, 10], "range": [122, 390], "nice": false, "zero": false}},
    "y": {"field": "v", "type": "quantitative", "scale": {"domain": [-15, 5], "range": [452, 341], "nice": false, "zero": false}},
    "text": {"field": "txt"}
   }},
  {"data": {"name": "eExp"}, "mark": {"type": "text", "fontSize": 10, "font": "Liberation Serif", "align": "left", "baseline": "bottom", "dy": -1, "color": "#333"},
   "encoding": {
    "x": {"field": "t", "type": "quantitative", "scale": {"domain": [4.5, 10], "range": [122, 390], "nice": false, "zero": false}},
    "y": {"field": "v", "type": "quantitative", "scale": {"domain": [-15, 5], "range": [452, 341], "nice": false, "zero": false}},
    "text": {"field": "txt"}
   }},
  {"data": {"name": "eArrow"}, "mark": {"type": "rule", "color": "#222", "strokeWidth": 1},
   "encoding": {
    "x": {"field": "t", "type": "quantitative", "scale": {"domain": [4.5, 10], "range": [122, 390], "nice": false, "zero": false}},
    "y": {"field": "v", "type": "quantitative", "scale": {"domain": [-15, 5], "range": [452, 341], "nice": false, "zero": false}},
    "x2": {"field": "t2"}, "y2": {"field": "v2"}
   }},
  {"data": {"name": "eArrow"}, "mark": {"type": "point", "shape": "triangle", "filled": true, "size": 16, "angle": 260, "color": "#222", "opacity": 1},
   "encoding": {
    "x": {"field": "t2", "type": "quantitative", "scale": {"domain": [4.5, 10], "range": [122, 390], "nice": false, "zero": false}},
    "y": {"field": "v2", "type": "quantitative", "scale": {"domain": [-15, 5], "range": [452, 341], "nice": false, "zero": false}}
   }},
  {"data": {"name": "eFrame"}, "mark": {"type": "rect", "fillOpacity": 0, "stroke": "#444", "strokeWidth": 1},
   "encoding": {
    "x": {"field": "x1", "type": "quantitative", "scale": {"domain": [4.5, 10], "range": [122, 390], "nice": false, "zero": false}},
    "x2": {"field": "x2"},
    "y": {"field": "y1", "type": "quantitative", "scale": {"domain": [-15, 5], "range": [452, 341], "nice": false, "zero": false}},
    "y2": {"field": "y2"}
   }}
 ]},
 {"layer": [
  {"data": {"name": "eIBox"}, "mark": {"type": "rect", "fill": "white", "stroke": "#333", "strokeWidth": 1},
   "encoding": {
    "x": {"field": "x1", "type": "quantitative", "scale": {"domain": [9.76, 9.8169], "range": [294, 385], "nice": false, "zero": false}, "axis": {"orient": "bottom", "offset": -31, "values": [9.76, 9.78, 9.8], "format": ".2~f", "title": null, "zindex": 2, "tickSize": -2, "labelPadding": 3}},
    "x2": {"field": "x2"},
    "y": {"field": "y1", "type": "quantitative", "scale": {"domain": [-2.543, -1.478], "range": [443, 394], "nice": false, "zero": false}, "axis": {"orient": "left", "offset": -294, "values": [-2.5, -2, -1.5], "format": "~g", "title": null, "zindex": 2, "tickSize": -2, "labelPadding": 3}},
    "y2": {"field": "y2"}
   }},
  {"data": {"name": "eISine"}, "mark": {"type": "line", "color": "#86b58e", "strokeWidth": 1.3, "interpolate": "monotone"},
   "encoding": {
    "x": {"field": "t", "type": "quantitative", "scale": {"domain": [9.76, 9.8169], "range": [294, 385], "nice": false, "zero": false}},
    "y": {"field": "v", "type": "quantitative", "scale": {"domain": [-2.543, -1.478], "range": [443, 394], "nice": false, "zero": false}}
   }},
  {"data": {"name": "eIExp"}, "mark": {"type": "text", "fontSize": 9.5, "font": "Liberation Serif", "align": "left", "baseline": "bottom", "color": "#333"},
   "encoding": {
    "x": {"field": "t", "type": "quantitative", "scale": {"domain": [9.76, 9.8169], "range": [294, 385], "nice": false, "zero": false}},
    "y": {"field": "v", "type": "quantitative", "scale": {"domain": [-2.543, -1.478], "range": [443, 394], "nice": false, "zero": false}},
    "text": {"field": "txt"}
   }}
 ]}
]
}
